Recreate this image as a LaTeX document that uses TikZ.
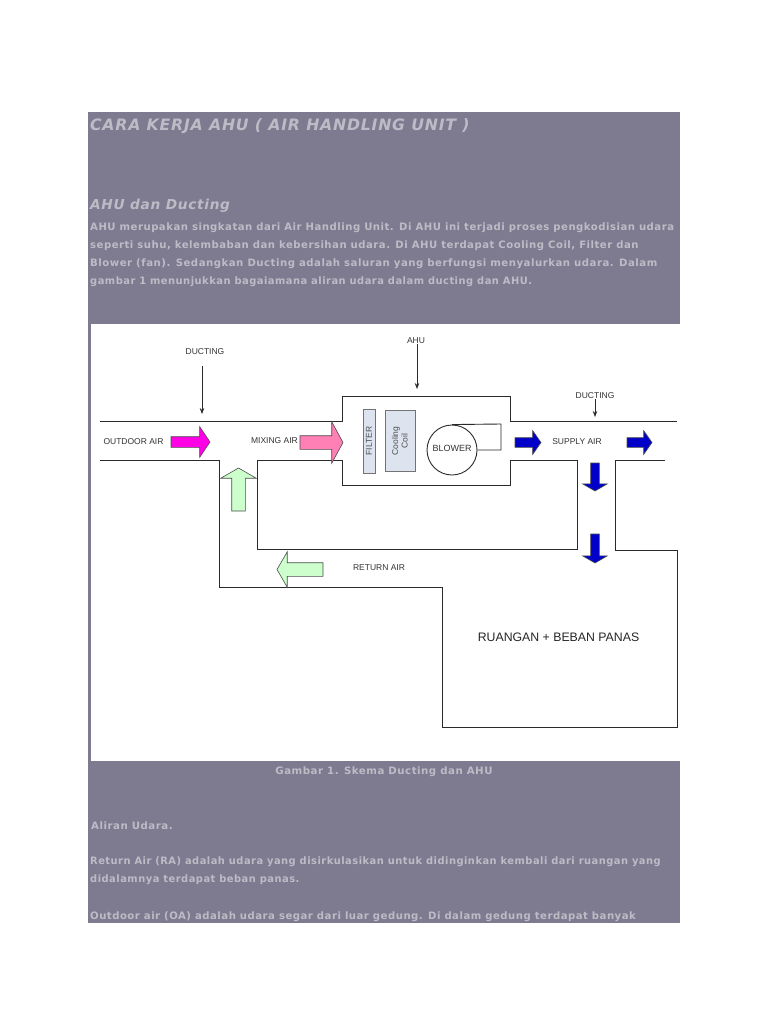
\documentclass[tikz,border=0pt]{standalone}
\usepackage{fontspec}
\setmainfont{Liberation Sans}
\newfontfamily\pagefont[LetterSpace=5]{DejaVu Sans}
\usetikzlibrary{arrows.meta,positioning,shapes.arrows}
\definecolor{pagebox}{HTML}{7E7A90}
\definecolor{pagetext}{HTML}{BDBCC6}
\definecolor{unitbox}{HTML}{DDE4F0}
\definecolor{ductline}{HTML}{2A2A2A}
\definecolor{outdoorflow}{HTML}{FF00E6}
\definecolor{mixflow}{HTML}{FF80B4}
\definecolor{returnflow}{HTML}{CCFFCC}
\definecolor{supplyflow}{HTML}{0000C8}
\newcommand{\fitline}[2]{\scalebox{#1}[1]{#2}}
\tikzset{
  wall/.style={draw=ductline, line width=0.9pt},
  leader/.style={-{Stealth[length=6pt,width=4.5pt]}, draw=ductline, line width=0.7pt},
  unitbox/.style={
    rectangle, draw=black!55, line width=0.9pt, fill=unitbox,
    inner sep=0pt, font=\fontsize{8.5}{9.5}\selectfont, text=black!70, align=center
  },
  difflabel/.style={font=\fontsize{8.5}{10}\selectfont, text=black!80, inner sep=0pt},
  flowhead/.style={
    single arrow, inner xsep=0pt, outer sep=0pt, anchor=tail, draw=black!70,
    line width=0.6pt, single arrow head indent=0pt, fill=#1
  },
  flowhead/.default=supplyflow,
  pageline/.style={
    anchor=west, inner sep=0pt, text=pagetext,
    font=\pagefont\bfseries\fontsize{10.2}{12}\selectfont
  }
}
\begin{document}
\begin{tikzpicture}[x=1pt,y=-1pt]
\useasboundingbox (0,0) rectangle (768,1024);
\fill[white] (0,0) rectangle (768,1024);
\fill[pagebox] (88,112) rectangle (680,923);
\fill[white] (91,324) rectangle (680,761);

\node[pageline, font=\pagefont\bfseries\itshape\fontsize{15.7}{18}\selectfont] (title) at (90,126) {CARA KERJA AHU ( AIR HANDLING UNIT )};
\node[pageline, font=\pagefont\bfseries\itshape\fontsize{13.7}{16}\selectfont] (heading) at (90,206) {AHU dan Ducting};
\node[pageline] (introa) at (90,227.5) {\fitline{.99}{AHU merupakan singkatan dari Air Handling Unit. Di AHU ini terjadi proses pengkodisian udara}};
\node[pageline] (introb) at (90,245.5) {\fitline{.99}{seperti suhu, kelembaban dan kebersihan udara. Di AHU terdapat Cooling Coil, Filter dan}};
\node[pageline] (introc) at (90,263.5) {\fitline{.995}{Blower (fan). Sedangkan Ducting adalah saluran yang berfungsi menyalurkan udara. Dalam}};
\node[pageline] (introd) at (90,281.5) {\fitline{.97}{gambar 1 menunjukkan bagaiamana aliran udara dalam ducting dan AHU.}};
\node[pageline, anchor=center] (caption) at (384,771.5) {Gambar 1. Skema Ducting dan AHU};
\node[pageline] (aliran) at (91,825.5) {Aliran Udara.};
\node[pageline] (returna) at (90,861.5) {\fitline{.968}{Return Air (RA) adalah udara yang disirkulasikan untuk didinginkan kembali dari ruangan yang}};
\node[pageline] (returnb) at (90,879.5) {\fitline{.97}{didalamnya terdapat beban panas.}};
\node[pageline] (outdoora) at (90,916.5) {\fitline{.99}{Outdoor air (OA) adalah udara segar dari luar gedung. Di dalam gedung terdapat banyak}};

\draw[wall] (100,421) -- (342,421) -- (342,396) -- (510,396) -- (510,421) -- (677,421);
\draw[wall] (100,460) -- (219,460) -- (219,587) -- (442,587) -- (442,727) -- (677,727) -- (677,550) -- (615,550) -- (615,460) -- (665,460);
\draw[wall] (342,460) -- (257,460) -- (257,549) -- (577,549) -- (577,460) -- (510,460) -- (510,485) -- (342,485) -- cycle;

\node[unitbox, minimum width=12pt, minimum height=64pt] (filter) at (369,441) {\rotatebox{90}{FILTER}};
\node[unitbox, minimum width=30pt, minimum height=61pt, right=10pt of filter] (coil) {\rotatebox{90}{\begin{tabular}{@{}c@{}}Cooling\\Coil\end{tabular}}};
\node[circle, draw=ductline, line width=0.9pt, minimum size=50pt, inner sep=0pt, fill=white, font=\fontsize{9}{10}\selectfont, text=black!80] (blower) at (452,450) {\raisebox{4pt}{BLOWER}};
\draw[wall] (blower.north) -- (501,424) -- (501,450) -- (blower.east);

\node[flowhead=outdoorflow, inner ysep=5pt, minimum height=39pt, single arrow head extend=10pt, single arrow tip angle=112] (outdoorarrow) at (171,442) {};
\node[flowhead=mixflow, inner ysep=6.5pt, minimum height=43pt, single arrow head extend=14pt, single arrow tip angle=123] (mixarrow) at (300,442.5) {};
\node[flowhead=returnflow, rotate=90, inner ysep=6.5pt, minimum height=43pt, single arrow head extend=11pt, single arrow tip angle=120] (riserarrow) at (238.5,511) {};
\node[flowhead=returnflow, rotate=180, inner ysep=6.5pt, minimum height=46pt, single arrow head extend=11pt, single arrow tip angle=120] (returnarrow) at (323,569.5) {};
\node[flowhead, inner ysep=4.5pt, minimum height=26pt, single arrow head extend=7pt, single arrow tip angle=110] (supplya) at (515,442.5) {};
\node[flowhead, inner ysep=4.5pt, minimum height=25pt, single arrow head extend=7pt, single arrow tip angle=110] (supplyb) at (627,442.5) {};
\node[flowhead, rotate=-90, inner ysep=4pt, minimum height=28pt, single arrow head extend=8pt, single arrow tip angle=120] (dropa) at (595,463) {};
\node[flowhead, rotate=-90, inner ysep=4pt, minimum height=29pt, single arrow head extend=8pt, single arrow tip angle=120] (dropb) at (595,534) {};

\node[difflabel] (outdoorlabel) at (133.5,442) {OUTDOOR AIR};
\node[difflabel] (mixlabel) at (274.5,441) {MIXING AIR};
\node[difflabel] (supplylabel) at (577,442) {SUPPLY AIR};
\node[difflabel] (returnlabel) at (379,568) {RETURN AIR};
\node[font=\fontsize{12.3}{14}\selectfont, text=black!85, inner sep=0pt] (roomlabel) at (558.5,637) {RUANGAN + BEBAN PANAS};

\node[difflabel] (ductlabel) at (205,352) {DUCTING};
\node[difflabel] (ahulabel) at (416,341) {AHU};
\node[difflabel] (ductlabelb) at (595,396) {DUCTING};
\coordinate (ductstart) at (202,366);
\coordinate (ductend) at (202,414);
\coordinate (ahuend) at (417,389);
\coordinate (ductendb) at (595,417);
\draw[leader] (ductstart) -- (ductend);
\draw[leader] (ahulabel.south -| ahuend) -- (ahuend);
\draw[leader] (ductlabelb.south) -- (ductendb);
\end{tikzpicture}
\end{document}
